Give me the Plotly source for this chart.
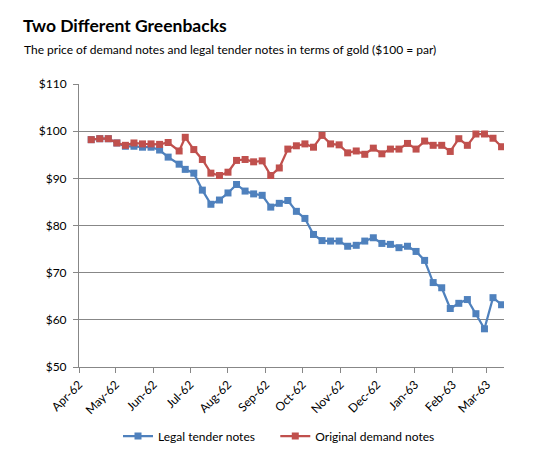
import plotly.graph_objects as go

# weekly quotes, Apr 1862 - Mar 1863
dates = [
    "1862-04-11", "1862-04-18", "1862-04-25", "1862-05-02", "1862-05-09",
    "1862-05-16", "1862-05-23", "1862-05-30", "1862-06-06", "1862-06-13",
    "1862-06-22", "1862-06-27", "1862-07-04", "1862-07-11", "1862-07-18",
    "1862-07-25", "1862-08-01", "1862-08-08", "1862-08-15", "1862-08-22",
    "1862-08-29", "1862-09-05", "1862-09-12", "1862-09-19", "1862-09-26",
    "1862-10-03", "1862-10-10", "1862-10-17", "1862-10-24", "1862-10-31",
    "1862-11-07", "1862-11-14", "1862-11-21", "1862-11-28", "1862-12-05",
    "1862-12-12", "1862-12-19", "1862-12-26", "1863-01-02", "1863-01-09",
    "1863-01-16", "1863-01-23", "1863-01-30", "1863-02-06", "1863-02-13",
    "1863-02-20", "1863-02-27", "1863-03-06", "1863-03-13",
]

legal_tender = [
    98.2, 98.4, 98.4, 97.5, 96.8, 96.8, 96.6, 96.6, 96.0, 94.5,
    93.0, 91.9, 91.1, 87.5, 84.5, 85.4, 86.9, 88.7, 87.3, 86.7,
    86.4, 83.9, 84.7, 85.3, 83.0, 81.5, 78.1, 76.8, 76.7, 76.7,
    75.6, 75.8, 76.7, 77.4, 76.2, 76.0, 75.3, 75.6, 74.5, 72.6,
    67.9, 66.8, 62.4, 63.5, 64.3, 61.3, 58.1, 64.7, 63.2,
]

demand_notes = [
    98.2, 98.4, 98.4, 97.5, 97.0, 97.5, 97.3, 97.3, 97.2, 97.6,
    95.8, 98.7, 96.1, 94.0, 91.1, 90.6, 91.3, 93.8, 94.0, 93.5,
    93.7, 90.6, 92.2, 96.2, 96.9, 97.3, 96.6, 99.1, 97.3, 97.1,
    95.4, 95.8, 95.1, 96.4, 95.2, 96.2, 96.2, 97.4, 96.2, 97.9,
    97.0, 97.0, 95.7, 98.4, 97.0, 99.4, 99.4, 98.5, 96.7,
]

tick_dates = [
    "1862-04-01", "1862-05-01", "1862-06-01", "1862-07-01", "1862-08-01",
    "1862-09-01", "1862-10-01", "1862-11-01", "1862-12-01", "1863-01-01",
    "1863-02-01", "1863-03-01",
]
tick_labels = ["Apr-62", "May-62", "Jun-62", "Jul-62", "Aug-62", "Sep-62",
               "Oct-62", "Nov-62", "Dec-62", "Jan-63", "Feb-63", "Mar-63"]

FONT = "Lato, 'Open Sans', sans-serif"
BLUE = "#4F81BD"
RED = "#C0504D"
GRID = "#878787"

# page body has an 8px margin, so the figure is 8px smaller than the window
W, H = 542, 454

fig = go.Figure()
fig.add_trace(go.Scatter(
    x=dates, y=legal_tender, name="Legal tender notes" + "\u00a0" * 5,
    mode="lines+markers",
    line=dict(color=BLUE, width=2.25),
    marker=dict(symbol="square", size=7, color=BLUE),
))
fig.add_trace(go.Scatter(
    x=dates, y=demand_notes, name="Original demand notes",
    mode="lines+markers",
    line=dict(color=RED, width=2.25),
    marker=dict(symbol="square", size=7, color=RED),
))

fig.update_layout(
    width=W, height=H,
    margin=dict(l=71, r=46, t=76, b=95, autoexpand=False),
    paper_bgcolor="white", plot_bgcolor="white",
    font=dict(family=FONT, size=12, color="black"),
    title=dict(
        text="<b>Two Different Greenbacks</b>",
        x=15 / W, xanchor="left", xref="container",
        y=1 - 18 / H, yanchor="middle", yref="container",
        font=dict(family=FONT, size=17.5, color="black"),
    ),
    showlegend=True,
    legend=dict(
        orientation="h", x=0.5, xanchor="center", xref="container",
        y=1 - 428 / H, yanchor="middle", yref="container",
        font=dict(family=FONT, size=12), itemwidth=30,
    ),
    annotations=[dict(
        text="The price of demand notes and legal tender notes in terms of gold ($100 = par)",
        xref="paper", yref="paper", x=(22 - 79) / 425, y=(366.7 - 50) / 282.7,
        xanchor="left", yanchor="middle", showarrow=False,
        font=dict(family=FONT, size=12, color="black"),
    )],
)

fig.update_xaxes(
    type="date", range=["1862-04-01", "1863-03-15"],
    tickvals=tick_dates, ticktext=tick_labels, tickangle=-45,
    ticks="outside", ticklen=5, tickcolor=GRID,
    showline=True, linecolor=GRID, linewidth=1,
    showgrid=False, zeroline=False, automargin=False,
    tickfont=dict(family=FONT, size=12),
)
fig.update_yaxes(
    range=[50, 110], dtick=10, tickprefix="$",
    ticks="outside", ticklen=5, tickcolor=GRID, ticklabelstandoff=4,
    showline=True, linecolor=GRID, linewidth=1,
    showgrid=True, gridcolor=GRID, gridwidth=1, zeroline=False, automargin=False,
    tickfont=dict(family=FONT, size=12),
)

fig.write_html("out.html")
